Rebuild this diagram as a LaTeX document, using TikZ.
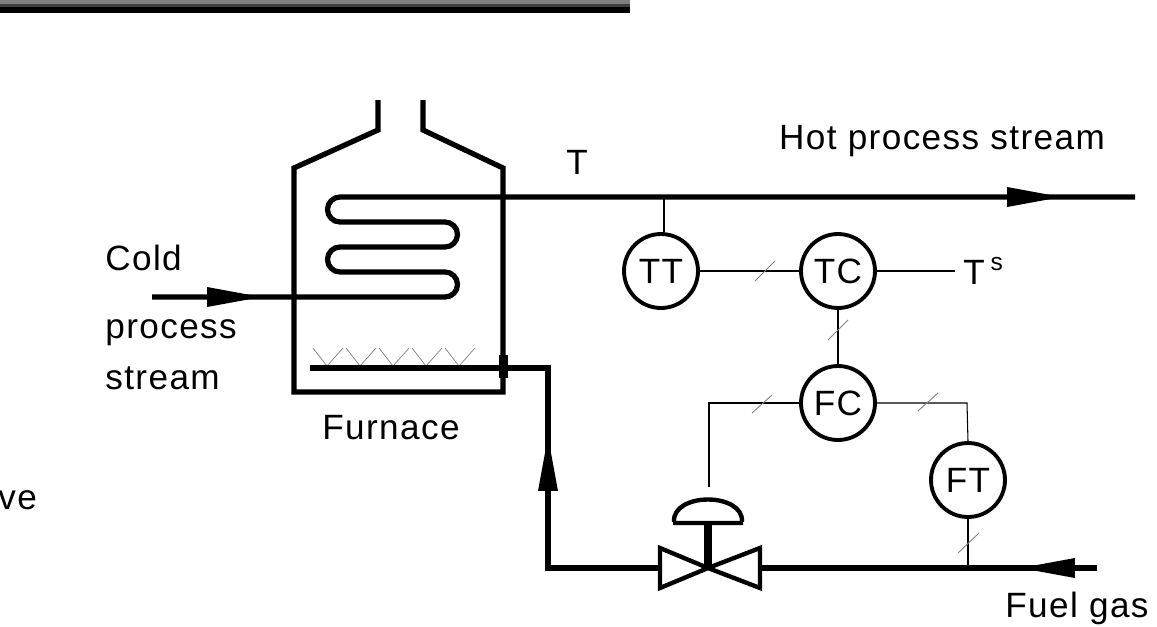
\documentclass[tikz,border=0pt]{standalone}
\usepackage{fontspec}
\setmainfont{Liberation Sans}[LetterSpace=4]
\usetikzlibrary{arrows.meta}
\begin{document}
\begin{tikzpicture}[x=0.02cm,y=-0.02cm,
  pipe/.style={line width=3pt},
  sig/.style={line width=0.6pt},
  inst/.style={circle,draw,line width=2.2pt,minimum size=1.48cm,inner sep=0pt,font=\fontsize{20}{22}\selectfont},
  lbl/.style={font=\fontsize{20}{22}\selectfont,inner sep=0pt},
  tick/.style={draw=gray,line width=0.5pt},
  arr/.style={-{Triangle[length=1.1cm,width=0.38cm]}}]
\useasboundingbox (0,0) rectangle (1157,626);
% top bar
\fill[gray] (0,0) rectangle (630,4);
\fill[black!75] (0,4) rectangle (630,7);
\fill[black] (0,7) rectangle (630,13);
% furnace
\draw[pipe,line join=miter] (378,100) -- (378,130) -- (294,168) -- (294,392) -- (503,392) -- (503,168) -- (423,130) -- (423,100);
% coil
\coordinate (hotend) at (1135,197);
\coordinate (coldstart) at (152,297);
\draw[pipe] (hotend) -- (340,197) arc[start angle=270,end angle=90,radius=12.5] -- (445,222) arc[start angle=270,end angle=450,radius=12.5] -- (340,247) arc[start angle=270,end angle=90,radius=12.5] -- (445,272) arc[start angle=270,end angle=450,radius=12.5] -- (coldstart);
\draw[arr,line width=2pt] (900,197) -- (1062,197);
\draw[arr,line width=2pt] (152,297) -- (262,297);
% flame
\foreach \i in {0,...,4} \draw[gray,line width=0.4pt] (313+\i*33,348) -- (327+\i*33,366) -- (343+\i*33,348);
% fuel line
\coordinate (burn) at (310,368);
\draw[pipe] (burn) -- (548,368) -- (548,568) -- (660,568);
\fill (499,355) rectangle (508,378);
\draw[arr,line width=2pt] (548,520) -- (548,436);
\draw[pipe] (760,568) -- (1097,568);
\draw[arr,line width=2pt] (1097,568) -- (1020,568);
% valve
\draw[line width=2.5pt,line join=miter] (708,568) -- (660,548) -- (660,588) -- cycle;
\draw[line width=2.5pt,line join=miter] (708,568) -- (760,548) -- (760,588) -- cycle;
\draw[line width=5pt] (708,566) -- (708,523);
\draw[line width=2.5pt] (673,523) -- (743,523) (674,522) .. controls (672,492) and (744,492) .. (742,522);
\coordinate (act) at (709,487);
% instruments
\node[inst] (TT) at (661,271) {TT};
\node[inst] (TC) at (838,271) {TC};
\node[inst] (FC) at (838,403) {FC};
\node[inst] (FT) at (968,480) {FT};
\draw[sig] (TT.north) ++(3,0) -- (664,197);
\draw[sig] (TT) -- (TC);
\draw[tick] (755,281) -- (775,261);
\coordinate (tsp) at (955,271);
\draw[sig] (TC) -- (tsp);
\node[lbl,anchor=west] (Ts) at (963,271) {T\,$^{\mathrm{s}}$};
\draw[sig] (TC) -- (FC);
\draw[tick] (828,340) -- (848,320);
\draw[sig] (FC.west) -- (709,403) -- (act);
\draw[tick] (752,413) -- (772,395);
\draw[sig] (FC.east) -- (967,403) -- (FT.north);
\draw[tick] (918,411) -- (938,393);
\draw[sig] (FT.south) -- (968,568);
\draw[tick] (958,553) -- (979,533);
% labels
\node[lbl] (t) at (577,162) {T};
\node[lbl] (hot) at (942,141) {Hot process stream};
\node[lbl,anchor=west] (cold) at (105,258) {Cold};
\node[lbl,anchor=west] (proc) at (105,333) {process};
\node[lbl,anchor=west] (str) at (105,378) {stream};
\node[lbl,anchor=west] (furn) at (322,428) {Furnace};
\node[lbl,anchor=west] (ve) at (-2,500) {ve};
\node[lbl,anchor=west] (fuel) at (1005,608) {Fuel gas};
\end{tikzpicture}
\end{document}
